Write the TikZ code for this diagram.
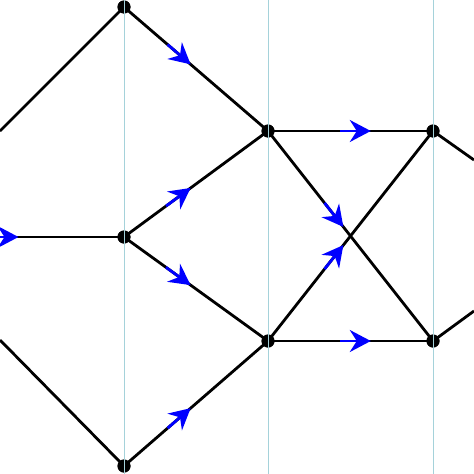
\documentclass[tikz,border=0pt]{standalone}
\usetikzlibrary{arrows.meta,decorations.markings}
\definecolor{guide}{RGB}{165,210,218}
\tikzset{
  edge/.style={line width=2.8pt,black},
  dot/.style={circle,fill=black,inner sep=0pt,minimum size=13pt},
  guideline/.style={guide,line width=0.7pt},
  midarr/.style={postaction={decorate,decoration={markings,mark=at position #1 with {
     \draw[blue,line width=2.8pt,-{Stealth[length=21pt,width=22pt,inset=7pt]}] (-30pt,0) -- (0.5pt,0);}}}}
}
\begin{document}
\begin{tikzpicture}[x=1pt,y=-1pt]
\useasboundingbox (0,0) rectangle (474,474);
\clip (0,0) rectangle (474,474);
\node[dot] (A) at (124,7) {};
\node[dot] (B) at (268,131) {};
\node[dot] (C) at (433,131) {};
\node[dot] (D) at (124,237) {};
\node[dot] (E) at (268,341) {};
\node[dot] (F) at (433,341) {};
\node[dot] (G) at (124,466) {};
\coordinate (L1) at (0,131);
\coordinate (L2) at (0,237);
\coordinate (L3) at (0,340);
\coordinate (R1) at (474,160);
\coordinate (R2) at (474,311);
\draw[edge] (L1) -- (A.center);
\draw[edge] (L3) -- (G.center);
\draw[edge] (C.center) -- (R1);
\draw[edge] (F.center) -- (R2);
\draw[edge,midarr=0.46] (A.center) -- (B.center);
\draw[edge,midarr=0.46] (D.center) -- (B.center);
\draw[edge,midarr=0.46] (D.center) -- (E.center);
\draw[edge,midarr=0.46] (G.center) -- (E.center);
\draw[edge,midarr=0.145] (L2) -- (D.center);
\draw[edge,midarr=0.62] (B.center) -- (C.center);
\draw[edge,midarr=0.62] (E.center) -- (F.center);
\draw[edge,midarr=0.455] (B.center) -- (F.center);
\draw[edge,midarr=0.455] (E.center) -- (C.center);
\foreach \n in {A,B,C,D,E,F,G} \node[dot] at (\n) {};
\coordinate (T1) at (124,0); \coordinate (U1) at (124,474);
\coordinate (T2) at (268,0); \coordinate (U2) at (268,474);
\coordinate (T3) at (433,0); \coordinate (U3) at (433,474);
\draw[guideline] (T1) -- (U1);
\draw[guideline] (T2) -- (U2);
\draw[guideline] (T3) -- (U3);
\end{tikzpicture}
\end{document}
